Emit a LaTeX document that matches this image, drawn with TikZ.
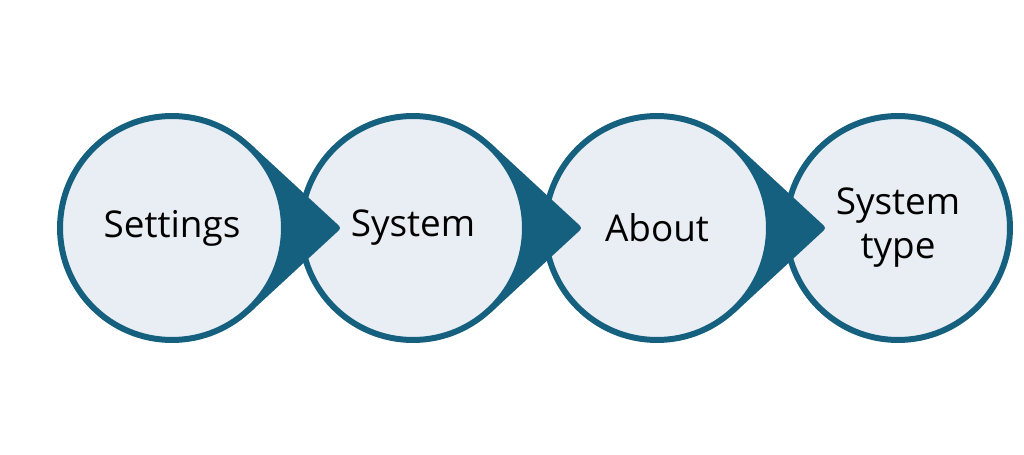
\documentclass[tikz,border=0pt]{standalone}
\usepackage{fontspec}
\setmainfont{Open Sans}
\usetikzlibrary{calc}
\definecolor{ringblue}{HTML}{15607F}
\definecolor{stepfill}{HTML}{E8EEF3}
\begin{document}
\begin{tikzpicture}[x=0.02cm,y=0.02cm,
  stage/.style={circle,draw=ringblue,fill=stepfill,line width=3.4pt,
    minimum size=4.48cm,inner sep=0pt,align=center,
    font=\fontsize{21}{25}\selectfont},
  tip/.style={fill=ringblue,draw=ringblue,line width=3.4pt,line join=round}]

\useasboundingbox (0,0) rectangle (1024,454);

\node[stage] (systype) at (898,226) {System\\type};

%tips lie over the next circle
\filldraw[tip] ($(657,226)+(47.2:112)$) -- (822,226) -- ($(657,226)+(-47.2:112)$) -- (657,226) -- cycle;
\node[stage] (about) at (657,226) {About};
\filldraw[tip] ($(413,226)+(47.2:112)$) -- (578,226) -- ($(413,226)+(-47.2:112)$) -- (413,226) -- cycle;
\node[stage] (system) at (413,226) {System};
\filldraw[tip] ($(172,226)+(47.2:112)$) -- (337,226) -- ($(172,226)+(-47.2:112)$) -- (172,226) -- cycle;
\node[stage] (settings) at (172,226) {Settings};

\end{tikzpicture}
\end{document}
